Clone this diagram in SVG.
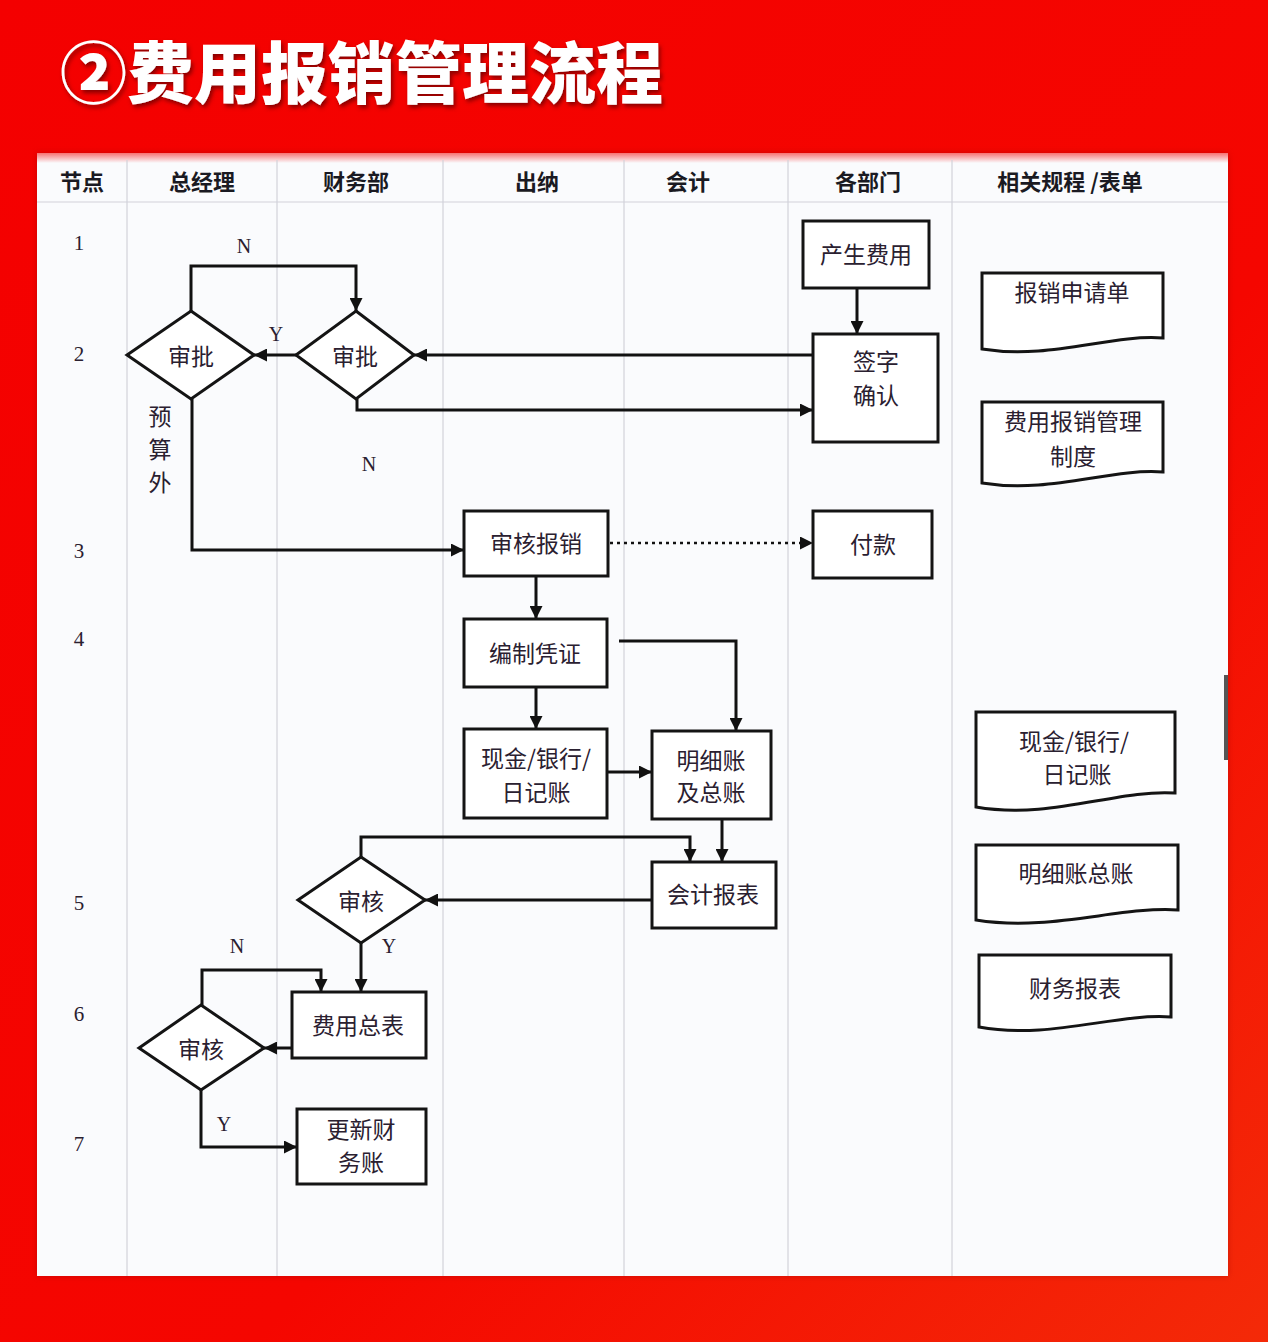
<svg xmlns="http://www.w3.org/2000/svg" width="1268" height="1342" viewBox="0 0 1268 1342">
<defs>
<linearGradient id="bg" x1="0" y1="0" x2="1" y2="1">
<stop offset="0" stop-color="#f40000"/>
<stop offset="0.6" stop-color="#f50600"/>
<stop offset="1" stop-color="#f42a08"/>
</linearGradient>
<linearGradient id="topfade" x1="0" y1="0" x2="0" y2="1">
<stop offset="0" stop-color="#f40000" stop-opacity="0.55"/>
<stop offset="1" stop-color="#f40000" stop-opacity="0"/>
</linearGradient>
<filter id="sh" x="-10%" y="-20%" width="120%" height="150%">
<feDropShadow dx="2" dy="3" stdDeviation="2" flood-color="#5a0000" flood-opacity="0.7"/>
</filter>
<filter id="ps" x="-5%" y="-5%" width="110%" height="110%">
<feDropShadow dx="0" dy="0" stdDeviation="3" flood-color="#800000" flood-opacity="0.35"/>
</filter>
<marker id="ah" viewBox="0 0 10 10" refX="10" refY="5" markerWidth="15" markerHeight="13" markerUnits="userSpaceOnUse" orient="auto">
<path d="M0,0 L10,5 L0,10 z" fill="#111"/>
</marker>
</defs>
<style>
.grid{stroke:#d2d2da;stroke-width:1.2;fill:none}
.hd{font-family:"Noto Sans CJK SC","Noto Sans",sans-serif;font-size:22px;font-weight:700;fill:#1a1a22;text-anchor:middle;dominant-baseline:central}
.num{font-family:"Liberation Serif","DejaVu Serif",serif;font-size:21px;fill:#2a2030;text-anchor:middle;dominant-baseline:central}
.lbl{font-family:"Liberation Serif","DejaVu Serif",serif;font-size:20px;fill:#2a2030;text-anchor:middle;dominant-baseline:central}
.box{fill:#ffffff;stroke:#141414;stroke-width:3}
.t{font-family:"Noto Sans CJK SC","Noto Sans",sans-serif;font-size:23px;fill:#2a2030;text-anchor:middle;dominant-baseline:central}
.c{fill:none;stroke:#111;stroke-width:3;marker-end:url(#ah)}
.dot{stroke-dasharray:3 4;stroke-width:2.6}
</style>
<rect x="0" y="0" width="1268" height="1342" fill="url(#bg)"/>
<text x="60" y="98" font-family="Noto Sans CJK SC, sans-serif" font-size="67" font-weight="900" fill="#ffffff" filter="url(#sh)">②费用报销管理流程</text>
<g id="panel">
<rect x="37" y="153" width="1191" height="1123" fill="#fafbfd" filter="url(#ps)"/>
<rect x="37" y="153" width="1191" height="10" fill="url(#topfade)"/>
<path class="grid" d="M127,160 V1276 M277,160 V1276 M443,160 V1276 M624,160 V1276 M788,160 V1276 M952,160 V1276 M37,202 H1228"/>
<rect x="1224" y="675" width="4" height="85" fill="#555"/>
</g>
<g id="header">
<text class="hd" x="82" y="180">节点</text>
<text class="hd" x="202" y="180">总经理</text>
<text class="hd" x="356" y="180">财务部</text>
<text class="hd" x="537" y="180">出纳</text>
<text class="hd" x="688" y="180">会计</text>
<text class="hd" x="868" y="180">各部门</text>
<text class="hd" x="1070" y="180" xml:space="preserve">相关规程 /表单</text>
</g>
<g id="steps">
<text class="num" x="79" y="243">1</text>
<text class="num" x="79" y="354">2</text>
<text class="num" x="79" y="551">3</text>
<text class="num" x="79" y="639">4</text>
<text class="num" x="79" y="903">5</text>
<text class="num" x="79" y="1014">6</text>
<text class="num" x="79" y="1144">7</text>
</g>
<g id="connectors">
<path class="c" d="M857,288 V334"/>
<path class="c" d="M813,355 H414"/>
<path class="c" d="M296,355 H254"/>
<path class="c" d="M191,311 V266 H356 V311"/>
<path class="c" d="M357,399 V410 H813"/>
<path class="c" d="M192,399 V550 H464"/>
<path class="c dot" d="M610,543 H813"/>
<path class="c" d="M536,576 V619"/>
<path class="c" d="M619,641 H736 V731"/>
<path class="c" d="M536,687 V729"/>
<path class="c" d="M607,772 H652"/>
<path class="c" d="M722,819 V862"/>
<path class="c" d="M361,857 V837 H690 V862"/>
<path class="c" d="M652,900 H425"/>
<path class="c" d="M361,943 V992"/>
<path class="c" d="M292,1048 H264"/>
<path class="c" d="M202,1005 V970 H321 V992"/>
<path class="c" d="M201,1090 V1147 H297"/>
<text class="lbl" x="244" y="246">N</text>
<text class="lbl" x="276" y="334">Y</text>
<text class="lbl" x="369" y="464">N</text>
<text class="lbl" x="389" y="946">Y</text>
<text class="lbl" x="237" y="946">N</text>
<text class="lbl" x="224" y="1124">Y</text>
<text class="t" x="160" y="415">预</text>
<text class="t" x="160" y="448">算</text>
<text class="t" x="160" y="481">外</text>
</g>
<g id="n-chanshengfeiyong">
<rect class="box" x="803" y="221" width="126" height="67"/>
<text class="t" x="866" y="253">产生费用</text>
</g>
<g id="n-qianzi">
<rect class="box" x="813" y="334" width="125" height="108"/>
<text class="t" x="876" y="360">签字</text>
<text class="t" x="876" y="394">确认</text>
</g>
<g id="n-shenpi-cw">
<polygon class="box" points="356,311 414,355 356,399 296,355"/>
<text class="t" x="355" y="355">审批</text>
</g>
<g id="n-shenpi-zjl">
<polygon class="box" points="191,311 254,355 191,399 127,355"/>
<text class="t" x="191" y="355">审批</text>
</g>
<g id="n-shenhebaoxiao">
<rect class="box" x="464" y="511" width="144" height="65"/>
<text class="t" x="536" y="542">审核报销</text>
</g>
<g id="n-fukuan">
<rect class="box" x="813" y="511" width="119" height="67"/>
<text class="t" x="873" y="543">付款</text>
</g>
<g id="n-bianzhi">
<rect class="box" x="464" y="619" width="143" height="68"/>
<text class="t" x="535" y="652">编制凭证</text>
</g>
<g id="n-xianjin">
<rect class="box" x="464" y="729" width="143" height="89"/>
<text class="t" x="536" y="757">现金/银行/</text>
<text class="t" x="536" y="791">日记账</text>
</g>
<g id="n-mingxi">
<rect class="box" x="652" y="731" width="119" height="88"/>
<text class="t" x="711" y="759">明细账</text>
<text class="t" x="711" y="791">及总账</text>
</g>
<g id="n-kuaijibaobiao">
<rect class="box" x="652" y="862" width="124" height="66"/>
<text class="t" x="713" y="893">会计报表</text>
</g>
<g id="n-shenhe-cw">
<polygon class="box" points="361,857 425,900 361,943 298,900"/>
<text class="t" x="361" y="900">审核</text>
</g>
<g id="n-feiyongzongbiao">
<rect class="box" x="292" y="992" width="134" height="66"/>
<text class="t" x="358" y="1024">费用总表</text>
</g>
<g id="n-shenhe-zjl">
<polygon class="box" points="201,1005 264,1048 201,1090 139,1048"/>
<text class="t" x="201" y="1048">审核</text>
</g>
<g id="n-gengxin">
<rect class="box" x="297" y="1109" width="129" height="75"/>
<text class="t" x="361" y="1128">更新财</text>
<text class="t" x="361" y="1161">务账</text>
</g>
<g id="d-baoxiaoshenqingdan">
<path class="box" d="M982,273 H1163 V338 C1110,334 1050,360 982,349 Z"/>
<text class="t" x="1072" y="291">报销申请单</text>
</g>
<g id="d-zhidu">
<path class="box" d="M982,402 H1163 V472 C1110,468 1050,494 982,483 Z"/>
<text class="t" x="1073" y="420">费用报销管理</text>
<text class="t" x="1073" y="455">制度</text>
</g>
<g id="d-rijizhang">
<path class="box" d="M976,712 H1175 V793 C1118,789 1050,820 976,807 Z"/>
<text class="t" x="1074" y="740">现金/银行/</text>
<text class="t" x="1077" y="773">日记账</text>
</g>
<g id="d-mingxizhang">
<path class="box" d="M976,845 H1178 V910 C1120,906 1050,932 976,920 Z"/>
<text class="t" x="1076" y="872">明细账总账</text>
</g>
<g id="d-caiwubaobiao">
<path class="box" d="M979,955 H1171 V1017 C1115,1013 1050,1040 979,1027 Z"/>
<text class="t" x="1075" y="987">财务报表</text>
</g>
</svg>
